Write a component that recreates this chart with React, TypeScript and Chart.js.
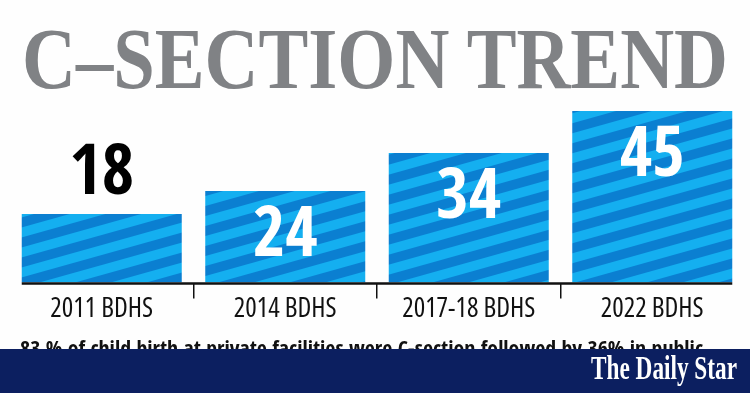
import React, { useEffect, useLayoutEffect, useRef } from "react";
import { Chart, registerables } from "chart.js";
Chart.register(...registerables);

const categories = ["2011 BDHS", "2014 BDHS", "2017-18 BDHS", "2022 BDHS"];
const values = [18, 24, 34, 45];
const titleText = "C\u2013SECTION TREND";
const footnoteText = "83 % of child birth at private facilities were C-section followed by 36% in public";
const brandText = "The Daily Star";

const W = 750;
const H = 393;
const COND = "'Open Sans', 'Roboto Condensed', 'Liberation Sans', sans-serif";
const COND_BOLD = "'Open Sans Condensed', 'Roboto Condensed', 'Open Sans', sans-serif";
const SERIF = "'Liberation Serif', 'DejaVu Serif', serif";

function makeStripes(): HTMLCanvasElement {
  const c = document.createElement("canvas");
  c.width = W;
  c.height = H;
  const g = c.getContext("2d")!;
  g.fillStyle = "#14aff0";
  g.fillRect(0, 0, W, H);
  g.fillStyle = "#0b7fd1";
  const s = 0.28, P = 20, c0 = 8.6, half = 5;
  for (let k = -5; k < 60; k++) {
    const yc = c0 + P * k;
    g.beginPath();
    g.moveTo(0, yc - half);
    g.lineTo(W, yc - half - s * W);
    g.lineTo(W, yc + half - s * W);
    g.lineTo(0, yc + half);
    g.closePath();
    g.fill();
  }
  return c;
}

function FitText(props: { text: string; width: number; style: React.CSSProperties }) {
  const ref = useRef<HTMLSpanElement>(null);
  useLayoutEffect(() => {
    const el = ref.current;
    if (!el) return;
    el.style.transform = "none";
    const natural = el.getBoundingClientRect().width;
    if (natural > 0) el.style.transform = `scaleX(${props.width / natural})`;
  }, [props.text, props.width]);
  return (
    <span
      ref={ref}
      style={{
        position: "absolute",
        whiteSpace: "nowrap",
        transformOrigin: "left top",
        display: "inline-block",
        ...props.style,
      }}
    >
      {props.text}
    </span>
  );
}

const axisLinePlugin = {
  id: "axisLine",
  afterDatasetsDraw(chart: any) {
    const meta = chart.getDatasetMeta(0);
    const els = meta.data;
    if (!els.length) return;
    const first = els[0];
    const last = els[els.length - 1];
    const y = chart.scales.y.getPixelForValue(0);
    const ctx = chart.ctx;
    ctx.save();
    ctx.strokeStyle = "#111111";
    ctx.lineWidth = 2.5;
    ctx.beginPath();
    ctx.moveTo(first.x - first.width / 2, y + 1);
    ctx.lineTo(last.x + last.width / 2, y + 1);
    ctx.stroke();
    ctx.restore();
  },
};

const valueLabelPlugin = {
  id: "valueLabels",
  afterDatasetsDraw(chart: any) {
    const meta = chart.getDatasetMeta(0);
    const ctx = chart.ctx;
    ctx.save();
    ctx.font = `bold 70px ${COND_BOLD}`;
    ctx.textAlign = "center";
    ctx.textBaseline = "middle";
    meta.data.forEach((el: any, i: number) => {
      const v = chart.data.datasets[0].data[i];
      const barH = el.base - el.y;
      if (barH > 85) {
        ctx.fillStyle = "#ffffff";
        ctx.fillText(String(v), el.x, el.y + 47);
      } else {
        ctx.fillStyle = "#000000";
        ctx.fillText(String(v), el.x, el.y - 38);
      }
    });
    ctx.restore();
  },
};

export default function App() {
  const canvasRef = useRef<HTMLCanvasElement>(null);

  useEffect(() => {
    const canvas = canvasRef.current;
    if (!canvas) return;
    const ctx = canvas.getContext("2d")!;
    const pattern = ctx.createPattern(makeStripes(), "no-repeat");
    const chart = new Chart(canvas, {
      type: "bar",
      data: {
        labels: categories,
        datasets: [
          {
            data: values,
            backgroundColor: pattern as any,
            borderWidth: 0,
            barPercentage: 0.872,
            categoryPercentage: 1,
          },
        ],
      },
      options: {
        responsive: false,
        animation: false,
        layout: { padding: { left: 10, right: 6, top: 111, bottom: 72 } },
        plugins: {
          legend: { display: false },
          tooltip: { enabled: false },
          title: { display: false },
        },
        scales: {
          y: { display: false, min: 0, max: 45 },
          x: {
            grid: {
              offset: true,
              drawOnChartArea: false,
              drawTicks: true,
              tickLength: 16,
              lineWidth: 1.5,
              color: (c: any) =>
                c.type !== "tick" || c.index === 0 ? "rgba(0,0,0,0)" : "#111111",
            },
            border: { display: false },
            ticks: {
              color: "#111111",
              font: { family: COND, size: 27, weight: "condensed" as any },
              padding: -5,
              maxRotation: 0,
              autoSkip: false,
            },
          },
        },
      },
      plugins: [axisLinePlugin, valueLabelPlugin],
    });
    return () => chart.destroy();
  }, []);

  return (
    <div
      style={{
        position: "fixed",
        left: 0,
        top: 0,
        width: W,
        height: H,
        background: "#fefefe",
        overflow: "hidden",
      }}
    >
      <FitText
        text={titleText}
        width={706}
        style={{
          left: 22,
          top: 16,
          fontFamily: SERIF,
          fontWeight: 700,
          fontSize: 86,
          lineHeight: "86px",
          color: "#808285",
        }}
      />
      <canvas
        ref={canvasRef}
        width={W}
        height={H}
        style={{ position: "absolute", left: 0, top: 0, width: W, height: H }}
      />
      <FitText
        text={footnoteText}
        width={683}
        style={{
          left: 20,
          top: 338,
          fontFamily: COND_BOLD,
          fontWeight: 700,
          fontSize: 21,
          lineHeight: "21px",
          color: "#111111",
        }}
      />
      <div
        style={{
          position: "absolute",
          left: 0,
          top: 349,
          width: W,
          height: H - 349,
          background: "#0c1f60",
        }}
      />
      <FitText
        text={brandText}
        width={146}
        style={{
          left: 591,
          top: 352,
          fontFamily: SERIF,
          fontWeight: 700,
          fontSize: 33,
          lineHeight: "33px",
          color: "#ffffff",
        }}
      />
    </div>
  );
}
